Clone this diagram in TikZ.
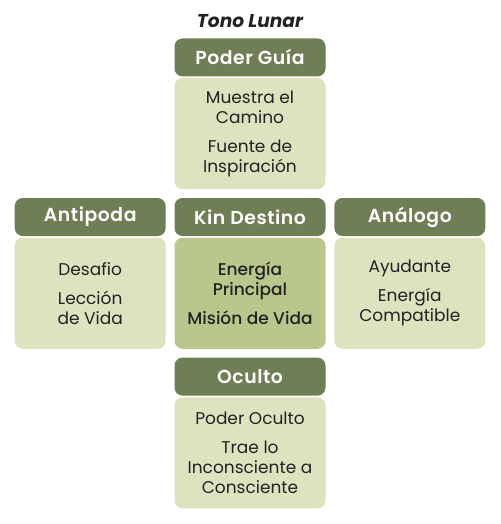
\documentclass[tikz,border=0pt]{standalone}
\usepackage{fontspec}
\setmainfont{Poppins}
\newfontfamily\fuenteMedia{Poppins Medium}
\newfontfamily\fuenteSemi{Poppins SemiBold}[LetterSpace=3]
\definecolor{tonoOliva}{HTML}{6F7F55}
\definecolor{tonoSalvia}{HTML}{DCE3BF}
\definecolor{tonoPistacho}{HTML}{B9C78C}
\definecolor{tonoTinta}{HTML}{222222}
\usetikzlibrary{
	positioning
}
\tikzset{
	cabecera/.style={
		fill=tonoOliva,
		text=white,
		rounded corners=4pt,
		minimum width=75.5pt,
		minimum height=19pt,
		inner sep=0pt,
		font=\fuenteSemi\fontsize{9.4}{10}\selectfont
	},
	cuerpo/.style={
		fill=tonoSalvia,
		text=tonoTinta,
		rounded corners=4pt,
		minimum width=75.5pt,
		minimum height=55.5pt,
		inner sep=0pt,
		align=center,
		font=\fontsize{8.5}{10}\selectfont
	},
	cuerpoCentral/.style={
		cuerpo,
		fill=tonoPistacho,
		font=\fuenteMedia\fontsize{8.5}{10}\selectfont
	},
	titulo/.style={
		text=tonoTinta,
		font=\bfseries\itshape\fontsize{9.3}{10}\selectfont
	}
}

\begin{document}
\begin{tikzpicture}[x=0.5pt, y=-0.5pt]
		\useasboundingbox (0,0) rectangle (500,524);
		\node[titulo] (tono) at (250,21) {Tono Lunar};
		% columna central
		\node[cabecera] (kin) at (250,217) {Kin Destino};
		\node[cuerpoCentral, below=0.5pt of kin] (kinCuerpo) {Energía\\Principal\\[4.5pt]Misión de Vida};
		\node[cuerpo, above=4pt of kin] (guiaCuerpo) {Muestra el\\Camino\\[4.5pt]Fuente de\\Inspiración};
		\node[cabecera, above=0.5pt of guiaCuerpo] (guia) {Poder Guía};
		\node[cabecera, below=4pt of kinCuerpo] (oculto) {Oculto};
		\node[cuerpo, below=0.5pt of oculto] (ocultoCuerpo) {Poder Oculto\\[4.5pt]Trae lo\\Inconsciente a\\Consciente};
		% lados
		\node[cabecera, left=4pt of kin] (antipoda) {Antipoda};
		\node[cuerpo, below=0.5pt of antipoda] (antipodaCuerpo) {Desafio\\[4.5pt]Lección\\de Vida};
		\node[cabecera, right=4pt of kin] (analogo) {Análogo};
		\node[cuerpo, below=0.5pt of analogo] (analogoCuerpo) {Ayudante\\[4.5pt]Energía\\Compatible};
	\end{tikzpicture}
\end{document}
